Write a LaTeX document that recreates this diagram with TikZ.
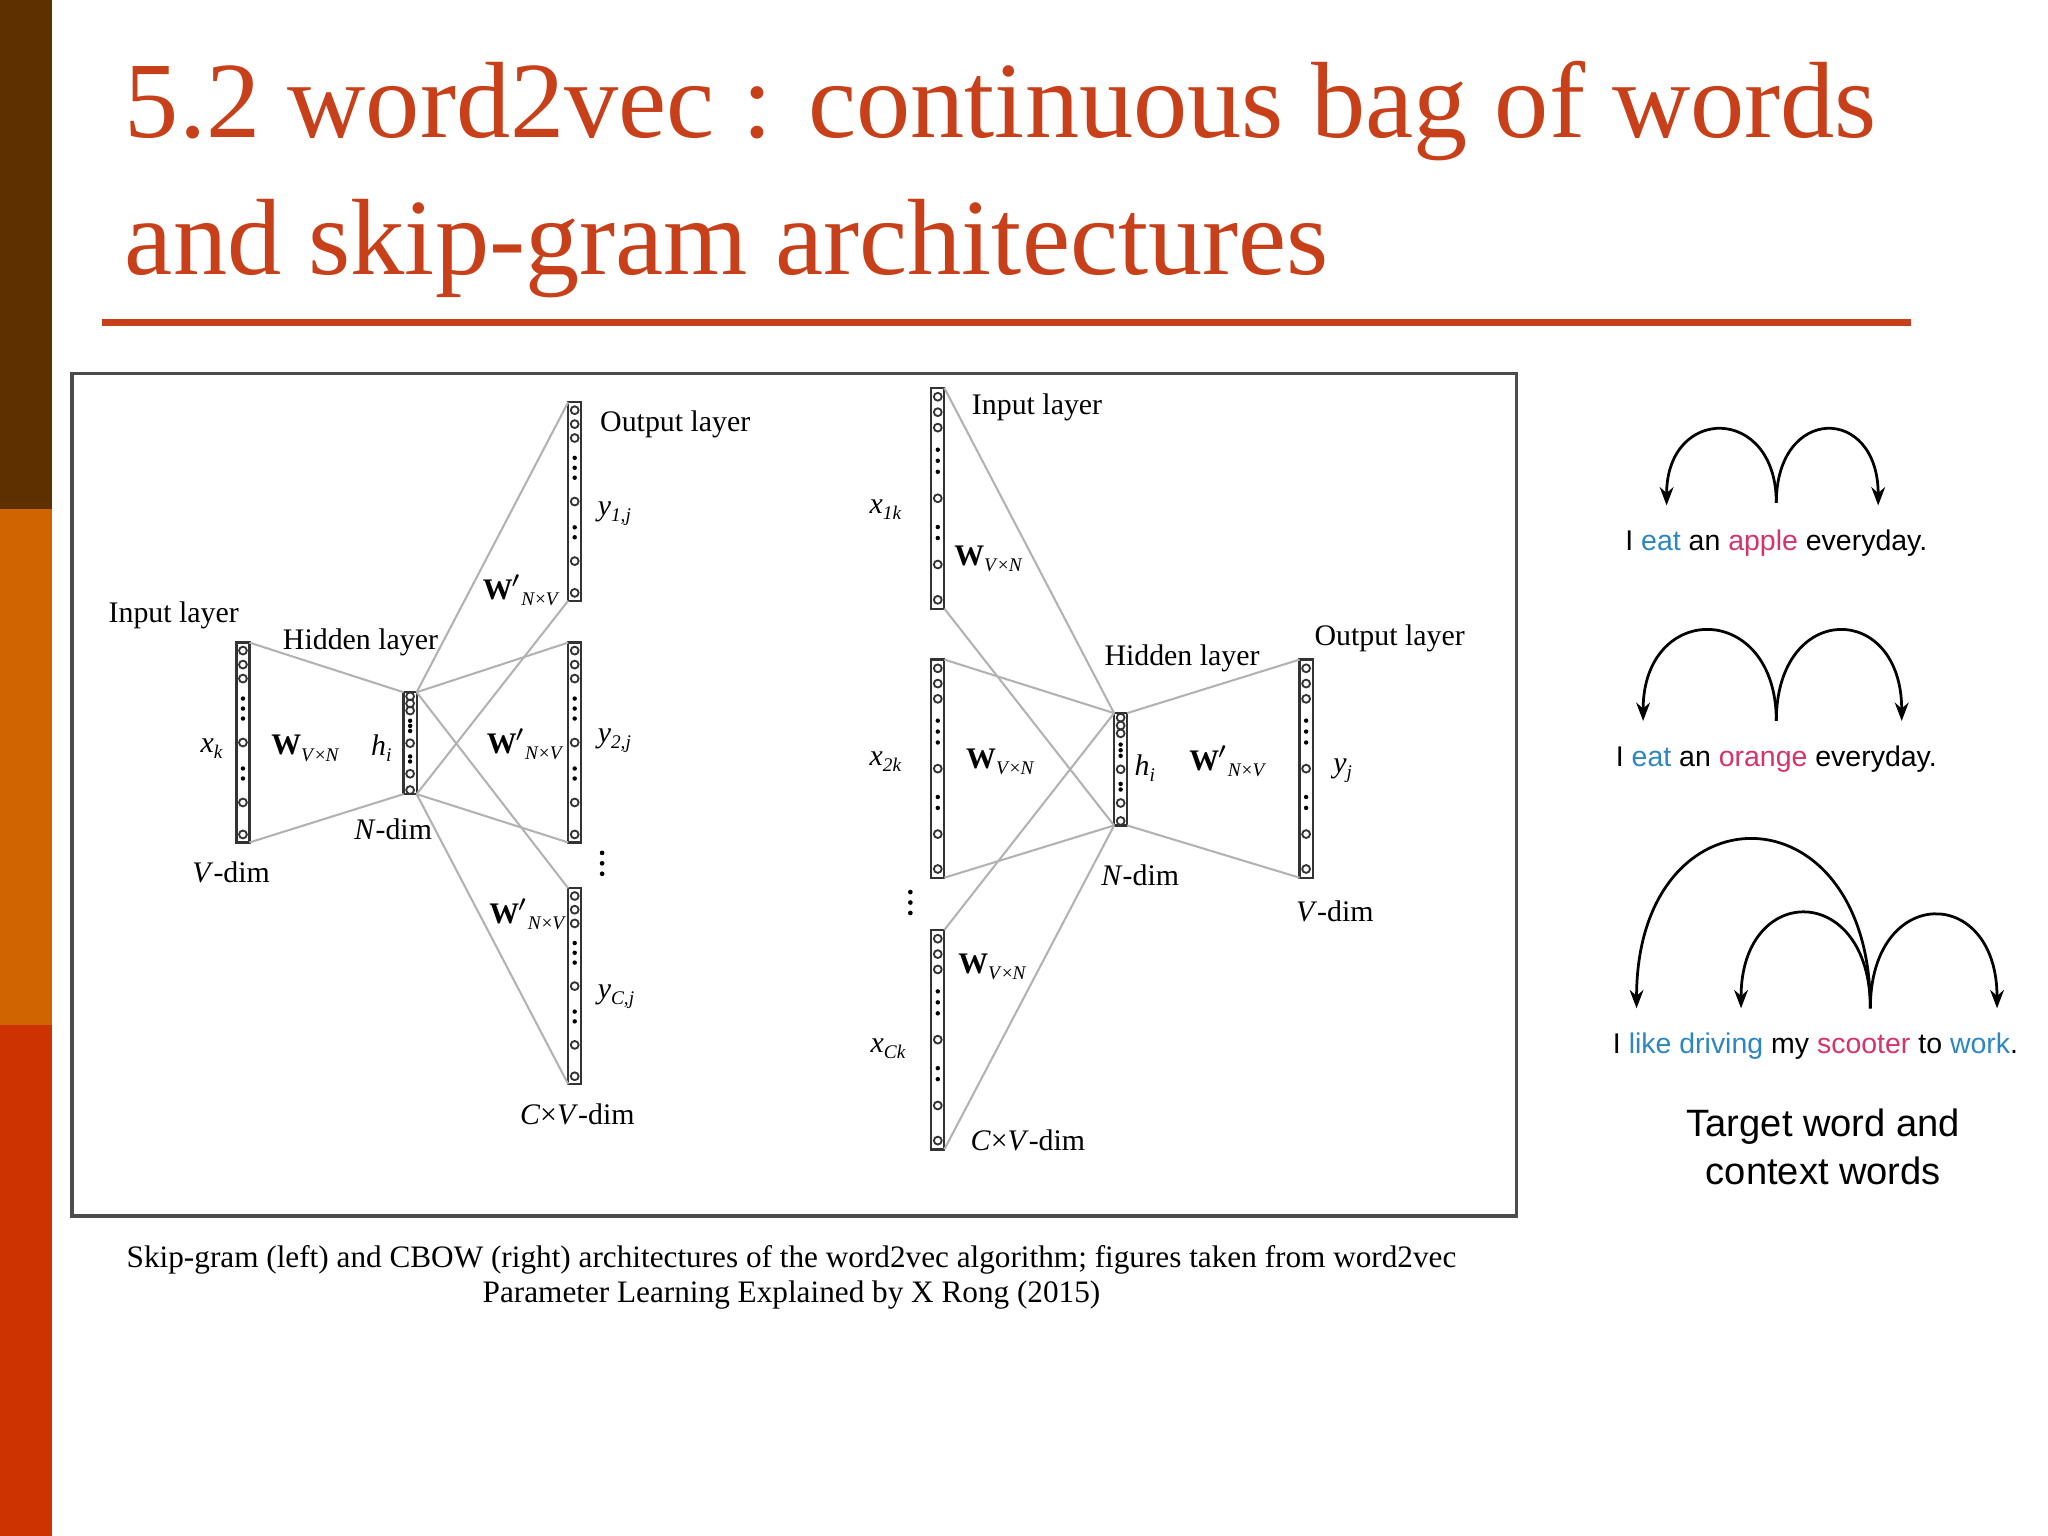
\documentclass[tikz,border=0pt]{standalone}
\usepackage{fontspec}
\setmainfont{Liberation Serif}
\newfontfamily\arialf{Liberation Sans}
\usetikzlibrary{arrows.meta}
\definecolor{ttl}{HTML}{C8401A}
\definecolor{brn}{HTML}{5E3000}
\definecolor{org}{HTML}{D06400}
\definecolor{rd}{HTML}{CC3300}
\definecolor{wb}{HTML}{2E86C1}
\definecolor{wr}{HTML}{D6336C}
\newcommand\lbar[4]{%
 \draw[gray!40!black,line width=0.5pt] (#2-5,#3) rectangle (#2+5,#4);
 \coordinate (#1t) at (#2,#3); \coordinate (#1b) at (#2,#4);
 \foreach \f in {0.04,0.11,0.18,0.5,0.8,0.96}{\draw[gray!40!black,line width=0.4pt] (#2,{#3+\f*(#4-#3)}) circle[radius=0.03cm];}
 \foreach \f in {0.28,0.33,0.38,0.63,0.68}{\fill (#2,{#3+\f*(#4-#3)}) circle[radius=0.017cm];}
}
\newcommand\vdts[2]{\foreach \d in {-8,0,8}{\fill (#1,#2+\d) circle[radius=0.018cm];}}
\newcommand\sbx[1]{\raisebox{-0.45ex}{\fontsize{4.2}{5}\selectfont #1}}
\newcommand\W{\textbf{W}\sbx{\textit{V}×\textit{N}}}
\newcommand\Wp{\textbf{W}\kern-0.08em$'$\kern-0.05em\sbx{\textit{N}×\textit{V}}}
\tikzset{lbl/.style={font=\fontsize{6.5}{8}\selectfont,inner sep=0pt},
 wl/.style={lbl,anchor=west},
 conn/.style={gray!60,line width=0.45pt},
 sent/.style={font=\arialf\fontsize{6.2}{8}\selectfont,inner sep=0pt},
 arc/.style={line width=0.6pt,-{Stealth[length=4pt,width=3pt]}}}
\begin{document}
\begin{tikzpicture}[x=0.01cm,y=-0.01cm]
\useasboundingbox (0,0) rectangle (1568,1176);
\fill[brn] (0,0) rectangle (40,390);
\fill[org] (0,390) rectangle (40,785);
\fill[rd] (0,785) rectangle (40,1176);
\node[anchor=base west,text=ttl,font=\fontsize{23.6}{28}\selectfont,inner sep=0pt] (t1) at (95,105) {5.2 word2vec : continuous bag of words};
\node[anchor=base west,text=ttl,font=\fontsize{23.6}{28}\selectfont,inner sep=0pt] (t2) at (95,210) {and skip-gram architectures};
\draw[ttl,line width=1.5pt] (78,247) -- (1463,247);
\draw[gray!60!black,line width=0.8pt] (55,286) rectangle (1161,931);
\node[lbl,align=center,font=\fontsize{6.8}{7.6}\selectfont] (cap) at (606,978) {Skip-gram (left) and CBOW (right) architectures of the word2vec algorithm; figures taken from word2vec\\Parameter Learning Explained by X Rong (2015)};
% skip-gram
\lbar{si}{186}{492}{645}
\lbar{sh}{314}{530}{608}
\lbar{so1}{440}{308}{460}
\lbar{so2}{440}{492}{645}
\lbar{so3}{440}{680}{830}
\draw[conn] ([xshift=0.05cm]sit) -- ([xshift=-0.05cm]sht);
\draw[conn] ([xshift=0.05cm]sib) -- ([xshift=-0.05cm]shb);
\foreach \o in {so1,so2,so3}{
 \draw[conn] ([xshift=0.05cm]sht) -- ([xshift=-0.05cm]\o t);
 \draw[conn] ([xshift=0.05cm]shb) -- ([xshift=-0.05cm]\o b);}
\node[lbl] at (133,471) {Input layer};
\node[lbl] at (162,573) {\textit{x}\sbx{\textit{k}}};
\node[lbl] at (177,668) {\textit{V}-dim};
\node[wl] at (207,573) {\W};
\node[lbl] at (292,573) {\textit{h}\sbx{\textit{i}}};
\node[lbl] at (276,492) {Hidden layer};
\node[lbl] at (301,635) {\textit{N}-dim};
\node[lbl] at (517,325) {Output layer};
\node[wl] at (457,393) {\textit{y}\sbx{\textit{1,j}}};
\node[wl] at (457,567) {\textit{y}\sbx{\textit{2,j}}};
\node[wl] at (457,763) {\textit{y}\sbx{\textit{C,j}}};
\node[wl] at (369,452) {\Wp};
\node[wl] at (372,570) {\Wp};
\node[wl] at (374,700) {\Wp};
\vdts{461}{661}
\node[lbl] at (442,853) {\textit{C}×\textit{V}-dim};
% CBOW
\lbar{ci1}{718}{297}{466}
\lbar{ci2}{718}{505}{672}
\lbar{ci3}{718}{712}{880}
\lbar{ch}{858}{546}{632}
\lbar{co}{1000}{505}{672}
\foreach \i in {ci1,ci2,ci3}{
 \draw[conn] ([xshift=0.05cm]\i t) -- ([xshift=-0.05cm]cht);
 \draw[conn] ([xshift=0.05cm]\i b) -- ([xshift=-0.05cm]chb);}
\draw[conn] ([xshift=0.05cm]cht) -- ([xshift=-0.05cm]cot);
\draw[conn] ([xshift=0.05cm]chb) -- ([xshift=-0.05cm]cob);
\node[lbl] at (794,312) {Input layer};
\node[lbl] at (678,390) {\textit{x}\sbx{\textit{1k}}};
\node[lbl] at (678,583) {\textit{x}\sbx{\textit{2k}}};
\node[lbl] at (680,803) {\textit{x}\sbx{\textit{Ck}}};
\node[wl] at (730,428) {\W};
\node[wl] at (739,583) {\W};
\node[wl] at (733,740) {\W};
\vdts{697}{691}
\node[lbl] at (787,873) {\textit{C}×\textit{V}-dim};
\node[lbl] at (905,504) {Hidden layer};
\node[wl] at (868,588) {\textit{h}\sbx{\textit{i}}};
\node[lbl] at (873,670) {\textit{N}-dim};
\node[lbl] at (1064,489) {Output layer};
\node[lbl] at (1028,590) {\textit{y}\sbx{\textit{j}}};
\node[lbl] at (1022,698) {\textit{V}-dim};
\node[wl] at (910,583) {\Wp};
% sentences
\node[sent] (s1) at (1360,416) {I \textcolor{wb}{eat} an \textcolor{wr}{apple} everyday.};
\node[sent] (s2) at (1360,581) {I \textcolor{wb}{eat} an \textcolor{wr}{orange} everyday.};
\node[sent] (s3) at (1390,801) {I \textcolor{wb}{like driving} my \textcolor{wr}{scooter} to \textcolor{wb}{work}.};
\node[sent,align=center,font=\arialf\fontsize{8.3}{10.5}\selectfont] (s4) at (1396,878) {Target word and\\context words};
\coordinate (a0) at (1360,385); \coordinate (a1) at (1276,387); \coordinate (a2) at (1438,387);
\draw[arc] (a0) .. controls (1360,310) and (1276,310) .. (a1);
\draw[arc] (a0) .. controls (1360,310) and (1438,310) .. (a2);
\coordinate (b0) at (1360,552); \coordinate (b1) at (1258,552); \coordinate (b2) at (1456,552);
\draw[arc] (b0) .. controls (1360,460) and (1258,460) .. (b1);
\draw[arc] (b0) .. controls (1360,460) and (1456,460) .. (b2);
\coordinate (c0) at (1432,772); \coordinate (c1) at (1253,772); \coordinate (c2) at (1333,772); \coordinate (c3) at (1529,772);
\draw[arc] (c0) .. controls (1432,600) and (1253,600) .. (c1);
\draw[arc] (c0) .. controls (1432,675) and (1333,675) .. (c2);
\draw[arc] (c0) .. controls (1432,677) and (1529,677) .. (c3);
\end{tikzpicture}
\end{document}
